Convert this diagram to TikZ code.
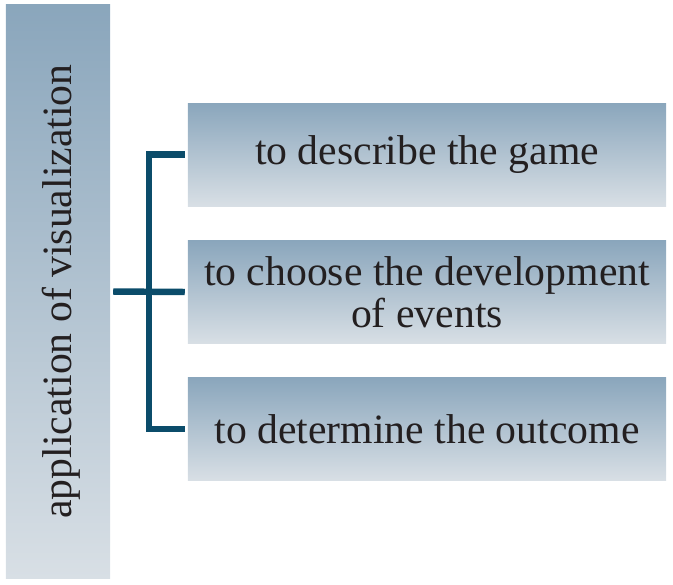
\documentclass[tikz,border=0pt]{standalone}
\usepackage{fontspec}
\setmainfont{Liberation Serif}
\usepackage{xcolor}
\usepackage{tikz}
\definecolor{VisBoxTop}{HTML}{8AA6BC}
\definecolor{VisBoxBottom}{HTML}{D8DFE5}
\definecolor{VisLink}{HTML}{0B4C6A}
\definecolor{VisText}{HTML}{231F20}

\begin{document}
\begin{tikzpicture}[x=0.03cm,y=-0.03cm,
    VisBox/.style={top color=VisBoxTop, bottom color=VisBoxBottom, inner sep=0pt},
    VisLabel/.style={VisText, align=center, font=\fontsize{35.6pt}{35.6pt}\selectfont},
    VisLine/.style={VisLink, line width=5.5pt, shorten <=0.09cm, shorten >=0.09cm}]
        \useasboundingbox (0,0) rectangle (673,584);
        \node[VisBox, minimum width=3.12cm, minimum height=17.19cm] (appbox) at (58,291.5) {};
        \node[VisLabel, rotate=90] (apptext) at (61,291.5) {application of visualization};
        \node[VisBox, VisLabel, minimum width=14.34cm, minimum height=3.09cm] (describe) at (427,154.5) {to describe the game};
        \node[VisBox, VisLabel, minimum width=14.34cm, minimum height=3.09cm] (choose) at (427,292) {to choose the development\\of events};
        \node[VisBox, VisLabel, minimum width=14.34cm, minimum height=3.09cm] (outcome) at (427,429) {to determine the outcome};
        \draw[VisLine] (appbox.east) -- (choose.west);
        \draw[VisLine, line join=miter] (describe.west) -- ++(-39,0) |- (outcome.west);
      \end{tikzpicture}
\end{document}
